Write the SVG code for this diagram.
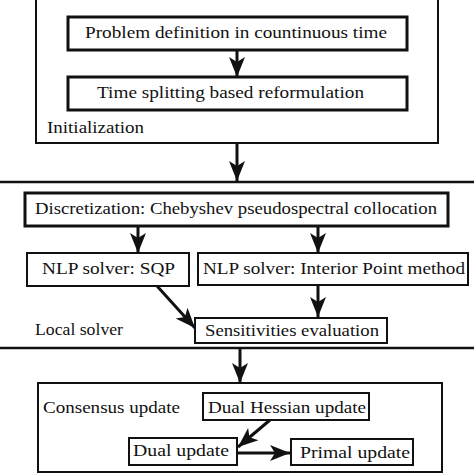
<svg xmlns="http://www.w3.org/2000/svg" width="474" height="474" viewBox="0 0 474 474">
<style>
.frame{fill:none;stroke:#111;stroke-width:2}
.box{fill:#fff;stroke:#111;stroke-width:2}
.tbox{fill:#fff;stroke:#111;stroke-width:3}
.sep{stroke:#111;stroke-width:2.5}
.con{stroke:#111;stroke-width:3;fill:none;marker-end:url(#ah)}
</style>
<defs>
<marker id="ah" viewBox="-20 -9 21 18" refX="0" refY="0" markerWidth="21" markerHeight="18" markerUnits="userSpaceOnUse" orient="auto">
<path d="M0,0 L-20,-8 L-15,0 L-20,8 Z" fill="#111"/>
</marker>
</defs>
<rect width="474" height="474" fill="#fff"/>
<g font-family="Liberation Serif, DejaVu Serif, Times New Roman, serif" font-size="17" fill="#111">
<g id="frame-init">
<rect class="frame" x="36" y="-1" width="402" height="144"/>
<text x="47" y="133" textLength="97" lengthAdjust="spacingAndGlyphs">Initialization</text>
</g>
<g id="sections">
<line class="sep" x1="0" y1="182" x2="474" y2="182"/>
<line class="sep" x1="0" y1="348" x2="474" y2="348"/>
<text x="35" y="335" textLength="88" lengthAdjust="spacingAndGlyphs">Local solver</text>
</g>
<g id="frame-consensus">
<rect class="frame" x="38" y="383" width="404" height="89"/>
<text x="43" y="413" textLength="137" lengthAdjust="spacingAndGlyphs">Consensus update</text>
</g>
<g id="connectors">
<line class="con" x1="237" y1="50" x2="237" y2="77"/>
<line class="con" x1="237" y1="143" x2="237" y2="181"/>
<line class="con" x1="138" y1="226" x2="138" y2="253"/>
<line class="con" x1="318" y1="226" x2="318" y2="253"/>
<line class="con" x1="318" y1="285" x2="318" y2="317"/>
<line class="con" x1="157" y1="286" x2="195" y2="328"/>
<line class="con" x1="240" y1="348" x2="240" y2="383"/>
<line class="con" x1="270" y1="420" x2="238" y2="447"/>
<line class="con" x1="237" y1="453" x2="290" y2="453"/>
</g>
<g id="n-problem">
<rect class="tbox" x="68" y="17" width="339" height="33"/>
<text x="85" y="38" textLength="302" lengthAdjust="spacingAndGlyphs">Problem definition in countinuous time</text>
</g>
<g id="n-timesplit">
<rect class="tbox" x="68" y="77" width="339" height="33"/>
<text x="97" y="98" textLength="267" lengthAdjust="spacingAndGlyphs">Time splitting based reformulation</text>
</g>
<g id="n-discretization">
<rect class="tbox" x="25" y="193" width="423" height="33"/>
<text x="35" y="214" textLength="402" lengthAdjust="spacingAndGlyphs">Discretization: Chebyshev pseudospectral collocation</text>
</g>
<g id="n-sqp">
<rect class="box" x="27" y="253" width="162" height="33"/>
<text x="42" y="274" textLength="133" lengthAdjust="spacingAndGlyphs">NLP solver: SQP</text>
</g>
<g id="n-ip">
<rect class="box" x="198" y="253" width="270" height="32"/>
<text x="203" y="274" textLength="262" lengthAdjust="spacingAndGlyphs">NLP solver: Interior Point method</text>
</g>
<g id="n-sens">
<rect class="box" x="195" y="318" width="192" height="25"/>
<text x="205" y="336" textLength="174" lengthAdjust="spacingAndGlyphs">Sensitivities evaluation</text>
</g>
<g id="n-dualhess">
<rect class="box" x="203" y="393" width="166" height="27"/>
<text x="208" y="413" textLength="158" lengthAdjust="spacingAndGlyphs">Dual Hessian update</text>
</g>
<g id="n-dual">
<rect class="box" x="129" y="438" width="108" height="27"/>
<text x="133" y="456" textLength="96" lengthAdjust="spacingAndGlyphs">Dual update</text>
</g>
<g id="n-primal">
<rect class="box" x="291" y="439" width="122" height="26"/>
<text x="300" y="458" textLength="110" lengthAdjust="spacingAndGlyphs">Primal update</text>
</g>
</g>
</svg>
